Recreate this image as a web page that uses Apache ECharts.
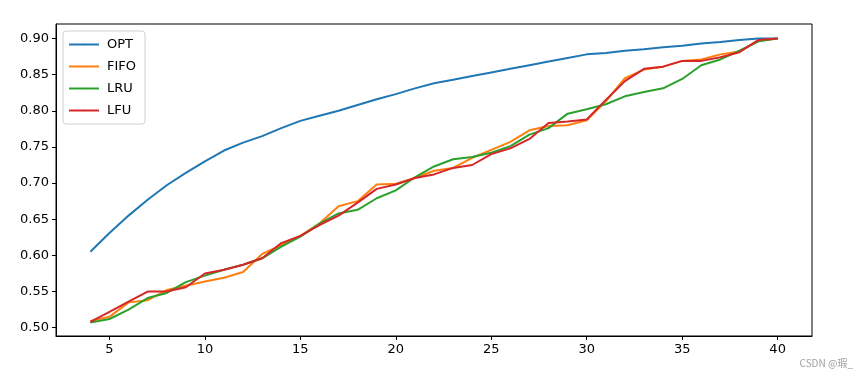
<!DOCTYPE html>
<html>
<head>
<meta charset="utf-8">
<script src="https://cdn.jsdelivr.net/npm/echarts@6/dist/echarts.min.js"></script>
<style>
  html, body { margin: 0; padding: 0; background: #fff; }
  #chart { width: 865px; height: 376px; }
</style>
</head>
<body>
<div id="chart"></div>
<script>
// x values (number of frames)
var frames = [4, 5, 6, 7, 8, 9, 10, 11, 12, 13, 14, 15, 16, 17, 18, 19, 20, 21, 22,
  23, 24, 25, 26, 27, 28, 29, 30, 31, 32, 33, 34, 35, 36, 37, 38, 39, 40];

var opt = [0.605, 0.631, 0.655, 0.677, 0.697, 0.714, 0.730, 0.745, 0.756, 0.765, 0.776, 0.786,
  0.793, 0.800, 0.808, 0.816, 0.823, 0.831, 0.838, 0.843, 0.848, 0.853, 0.858, 0.863, 0.868,
  0.873, 0.878, 0.880, 0.883, 0.885, 0.888, 0.890, 0.893, 0.895, 0.898, 0.900, 0.900];

var fifo = [0.509, 0.515, 0.535, 0.538, 0.552, 0.558, 0.564, 0.569, 0.577, 0.602, 0.614, 0.627,
  0.644, 0.668, 0.675, 0.698, 0.699, 0.707, 0.717, 0.721, 0.735, 0.746, 0.757, 0.773, 0.779,
  0.780, 0.787, 0.813, 0.845, 0.857, 0.861, 0.869, 0.871, 0.878, 0.882, 0.897, 0.900];

var lru = [0.507, 0.512, 0.525, 0.541, 0.548, 0.563, 0.572, 0.580, 0.587, 0.596, 0.612, 0.626,
  0.644, 0.658, 0.663, 0.679, 0.690, 0.708, 0.723, 0.733, 0.736, 0.742, 0.751, 0.767, 0.776,
  0.796, 0.802, 0.809, 0.820, 0.826, 0.831, 0.844, 0.863, 0.871, 0.883, 0.896, 0.900];

var lfu = [0.508, 0.522, 0.536, 0.550, 0.550, 0.556, 0.575, 0.580, 0.587, 0.596, 0.617, 0.627,
  0.642, 0.655, 0.673, 0.692, 0.698, 0.707, 0.712, 0.721, 0.725, 0.740, 0.748, 0.761, 0.783,
  0.785, 0.788, 0.815, 0.841, 0.858, 0.861, 0.869, 0.869, 0.874, 0.881, 0.898, 0.900];

var xTicks = [5, 10, 15, 20, 25, 30, 35, 40];
var yTicks = [0.50, 0.55, 0.60, 0.65, 0.70, 0.75, 0.80, 0.85, 0.90];

function pairs(ys) {
  return frames.map(function (x, i) { return [x, ys[i]]; });
}

function makeSeries(name, ys, color) {
  return {
    name: name,
    type: 'line',
    data: pairs(ys),
    symbol: 'none',
    color: color,
    lineStyle: { width: 2, color: color },
    animation: false
  };
}

var chart = echarts.init(document.getElementById('chart'));
var font = 'DejaVu Sans';
chart.setOption({
  animation: false,
  textStyle: { fontFamily: font },
  grid: {
    left: 56, right: 53, top: 24, bottom: 40,
    show: true, borderColor: '#000', borderWidth: 1
  },
  legend: {
    orient: 'vertical',
    left: 63, top: 31,
    itemWidth: 30, itemHeight: 2, itemGap: 9,
    padding: [7, 9, 7, 5],
    borderColor: '#d0d0d0', borderWidth: 1, borderRadius: 3,
    backgroundColor: 'rgba(255,255,255,0.8)',
    textStyle: { fontFamily: font, fontSize: 13, color: '#000', padding: [0, 0, 0, 3] },
    data: ['OPT', 'FIFO', 'LRU', 'LFU']
  },
  xAxis: {
    type: 'value',
    min: 2.2, max: 41.8,
    splitLine: { show: false },
    axisLine: { show: true, onZero: false, lineStyle: { color: '#000' } },
    axisTick: { show: true, length: 4, customValues: xTicks, lineStyle: { color: '#000' } },
    axisLabel: { customValues: xTicks, color: '#000', fontSize: 13, fontFamily: font, margin: 7 }
  },
  yAxis: {
    type: 'value',
    min: 0.4885, max: 0.920,
    splitLine: { show: false },
    axisLine: { show: true, lineStyle: { color: '#000' } },
    axisTick: { show: true, length: 4, customValues: yTicks, lineStyle: { color: '#000' } },
    axisLabel: {
      customValues: yTicks, color: '#000', fontSize: 13, fontFamily: font, margin: 7,
      formatter: function (v) { return v.toFixed(2); }
    }
  },
  graphic: [{
    type: 'text',
    right: 12, bottom: 8,
    style: { text: 'CSDN @瑕_', fill: '#a0a0a0', fontSize: 10, fontFamily: 'Noto Sans CJK SC' }
  }],
  series: [
    makeSeries('OPT', opt, '#1f77b4'),
    makeSeries('FIFO', fifo, '#ff7f0e'),
    makeSeries('LRU', lru, '#2ca02c'),
    makeSeries('LFU', lfu, '#d62728')
  ]
});
</script>
</body>
</html>
